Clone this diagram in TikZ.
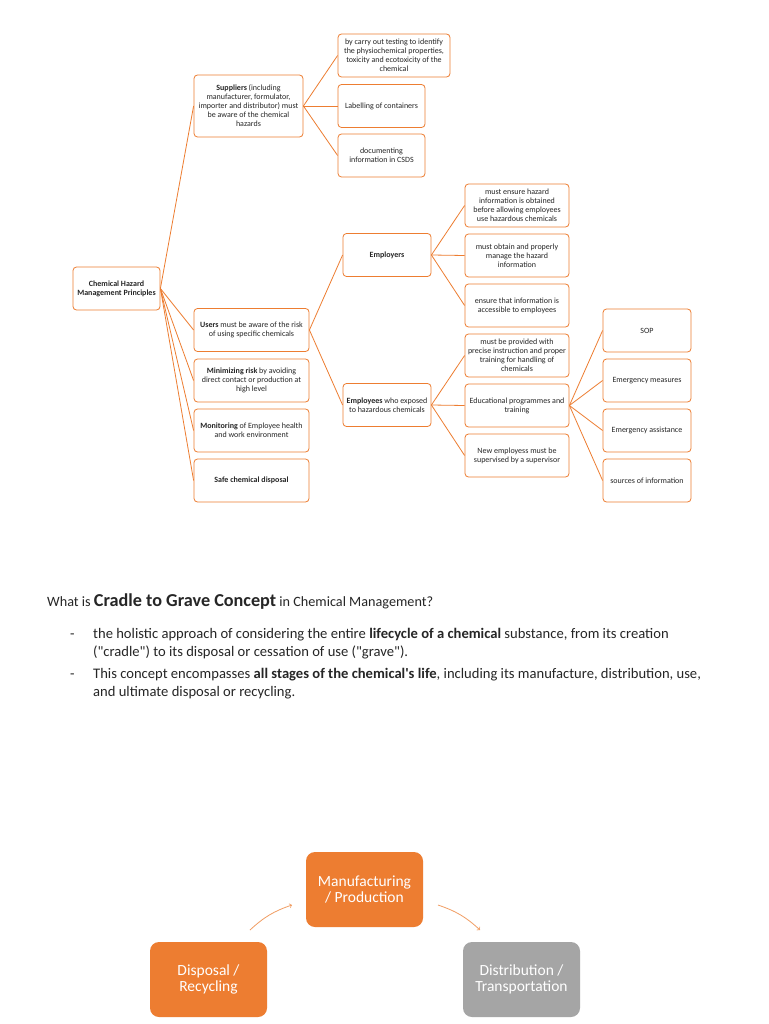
\documentclass[tikz,border=0pt]{standalone}
\usepackage{fontspec}
\usepackage{xcolor}
\usepackage{tikz}
\setmainfont{Carlito}

\definecolor{hazorange}{HTML}{ED7D31}
\definecolor{hazgrey}{HTML}{A5A5A5}
\definecolor{inkgrey}{HTML}{262626}

\tikzset{
  box/.style={draw=hazorange, line width=0.8pt, rounded corners=3.5pt, fill=white,
    align=center, text=inkgrey, inner sep=1pt, minimum height=43pt,
    font=\fontsize{8}{9}\selectfont},
  link/.style={draw=hazorange, line width=0.8pt},
  stage/.style={rounded corners=9pt, fill=hazorange, text=white, align=center,
    minimum width=117pt, minimum height=75pt, font=\fontsize{15.5}{16}\selectfont},
}

\begin{document}
\begin{tikzpicture}[x=1pt, y=-1pt]
                \fill[white] (0,0) rectangle (768,1024);
                \useasboundingbox (0,0) rectangle (768,1024);

                %% hazard tree
                \node[box, minimum width=87pt] (root) at (116.5,288.5) {\textbf{Chemical Hazard}\\\textbf{Management Principles}};

                %Suppliers
                \node[box, minimum width=109pt, minimum height=62pt] (sup) at (248.5,106) {\textbf{Suppliers} (including\\manufacturer, formulator,\\importer and distributor) must\\be aware of the chemical\\hazards};
                \node[box, minimum width=112pt] (testing) at (394,55.5) {by carry out testing to identify\\the physiochemical properties,\\toxicity and ecotoxicity of the\\chemical};
                \node[box, minimum width=87pt] (labels) at (381.5,106) {Labelling of containers};
                \node[box, minimum width=87pt] (csds) at (381.5,155.5) {documenting\\information in CSDS};

                %Users and the other principles
                \node[box, minimum width=115pt] (users) at (251.5,330) {\textbf{Users} must be aware of the risk\\of using specific chemicals};
                \node[box, minimum width=115pt] (minrisk) at (251.5,380.5) {\textbf{Minimizing risk} by avoiding\\direct contact or production at\\high level};
                \node[box, minimum width=115pt] (monitor) at (251.5,430.5) {\textbf{Monitoring} of Employee health\\and work environment};
                \node[box, minimum width=115pt] (dispose) at (251.5,480.5) {\textbf{Safe chemical disposal}};

                %Employers
                \node[box, minimum width=88pt] (employers) at (387,255) {\textbf{Employers}};
                \node[box, minimum width=104pt] (ensure) at (517,205.5) {must ensure hazard\\information is obtained\\before allowing employees\\use hazardous chemicals};
                \node[box, minimum width=104pt] (obtain) at (517,255.5) {must obtain and properly\\manage the hazard\\information};
                \node[box, minimum width=104pt] (access) at (517,305.5) {ensure that information is\\accessible to employees};

                %Employees
                \node[box, minimum width=88pt] (employees) at (387,405) {\textbf{Employees} who exposed\\to hazardous chemicals};
                \node[box, minimum width=104pt] (instruct) at (517,355.5) {must be provided with\\precise instruction and proper\\training for handling of\\chemicals};
                \node[box, minimum width=104pt] (edu) at (517,405.5) {Educational programmes and\\training};
                \node[box, minimum width=104pt] (newemp) at (517,455.5) {New employess must be\\supervised by a supervisor};

                %Training
                \node[box, minimum width=88pt] (sop) at (647,330.5) {SOP};
                \node[box, minimum width=88pt] (emmeas) at (647,380.5) {Emergency measures};
                \node[box, minimum width=88pt] (emassist) at (647,430.5) {Emergency assistance};
                \node[box, minimum width=88pt] (sources) at (647,480.5) {sources of information};

                % links
                \draw[link] (root.east) -- (sup.west);
                \draw[link] (root.east) -- (users.west);
                \draw[link] (root.east) -- (minrisk.west);
                \draw[link] (root.east) -- (monitor.west);
                \draw[link] (root.east) -- (dispose.west);
                \draw[link] (sup.east) -- (testing.west);
                \draw[link] (sup.east) -- (labels.west);
                \draw[link] (sup.east) -- (csds.west);
                \draw[link] (users.east) -- (employers.west);
                \draw[link] (users.east) -- (employees.west);
                \draw[link] (employers.east) -- (ensure.west);
                \draw[link] (employers.east) -- (obtain.west);
                \draw[link] (employers.east) -- (access.west);
                \draw[link] (employees.east) -- (instruct.west);
                \draw[link] (employees.east) -- (edu.west);
                \draw[link] (employees.east) -- (newemp.west);
                \draw[link] (edu.east) -- (sop.west);
                \draw[link] (edu.east) -- (emmeas.west);
                \draw[link] (edu.east) -- (emassist.west);
                \draw[link] (edu.east) -- (sources.west);

                %% Cradle to grave text
                \node[anchor=base west, inner sep=0pt, text=inkgrey, font=\fontsize{14.2}{18}\selectfont] (title) at (47,606)
                    {What is {\fontsize{18.2}{20}\selectfont\bfseries Cradle to Grave Concept} in Chemical Management?};
                \node[anchor=north west, inner sep=0pt, align=left, text=inkgrey, font=\fontsize{14.6}{18}\selectfont] (points) at (70,628)
                    {\makebox[23pt][l]{-}the holistic approach of considering the entire \textbf{lifecycle of a chemical} substance, from its creation\\
                     \hspace*{23pt}(\textquotedbl cradle\textquotedbl) to its disposal or cessation of use (\textquotedbl grave\textquotedbl).\\[4pt]
                     \makebox[23pt][l]{-}This concept encompasses \textbf{all stages of the chemical\textquotesingle s life}, including its manufacture, distribution, use,\\
                     \hspace*{23pt}and ultimate disposal or recycling.};

                %% cycle
                \node[stage] (manu) at (364.5,889.5) {Manufacturing\\/ Production};
                \node[stage] (disp) at (208.5,979.5) {Disposal /\\Recycling};
                \node[stage, fill=hazgrey] (distr) at (521.5,979.5) {Distribution /\\Transportation};

                \coordinate (up1) at (250,930);
                \coordinate (up2) at (292,905);
                \coordinate (dn1) at (438,905);
                \coordinate (dn2) at (480,930);
                \draw[->, hazorange!75, line width=0.8pt] (up1) to[bend left=12] (up2);
                \draw[->, hazorange!75, line width=0.8pt] (dn1) to[bend left=12] (dn2);

\end{tikzpicture}
\end{document}
